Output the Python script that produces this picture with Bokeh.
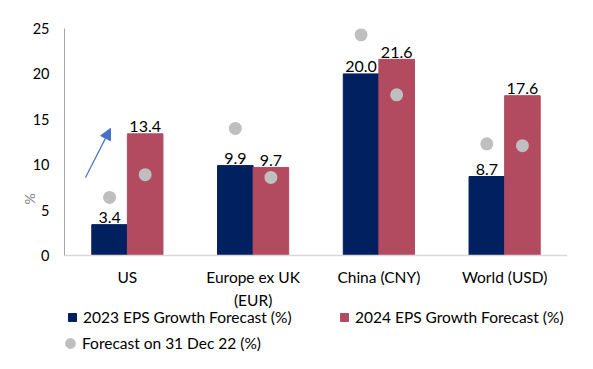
from bokeh.plotting import figure
from bokeh.models import (ColumnDataSource, Range1d, FixedTicker, Legend, LegendItem,
                          Arrow, NormalHead, LinearAxis)
from bokeh.core.properties import value
from bokeh.embed import file_html
from bokeh.resources import INLINE

# ---- data ----
categories = ["US", "Europe ex UK\n(EUR)", "China (CNY)", "World (USD)"]
eps_2023 = [3.4, 9.9, 20.0, 8.7]
eps_2024 = [13.4, 9.7, 21.6, 17.6]
dec22_2023 = [6.4, 14.0, 24.3, 12.3]
dec22_2024 = [8.9, 8.6, 17.7, 12.1]
y_ticks = [0, 5, 10, 15, 20, 25]
arrow_start = (0.167, 8.6)
arrow_end = (0.366, 14.0)

BLUE = "#002060"
RED = "#B24B60"
GREY = "#BFBFBF"
FONT = "Lato"

# frame layout: 0..25 occupies 227 px; 114 px below zero kept for labels and legend
PX_PER_UNIT = 227 / 25
Y_MIN = -114 / PX_PER_UNIT

bw = 0.283
centers = [i + 0.5 for i in range(len(categories))]
x23 = [c - bw / 2 for c in centers]
x24 = [c + bw / 2 for c in centers]

src23 = ColumnDataSource(dict(x=x23, top=eps_2023, lab=[f"{v:.1f}" for v in eps_2023], dot=dec22_2023))
src24 = ColumnDataSource(dict(x=x24, top=eps_2024, lab=[f"{v:.1f}" for v in eps_2024], dot=dec22_2024))

p = figure(width=593, height=369, output_backend="svg", toolbar_location=None,
           x_range=Range1d(0, len(categories)), y_range=Range1d(Y_MIN, 25),
           x_axis_location=None,
           min_border_left=64, min_border_right=26, min_border_top=28, min_border_bottom=0)
p.outline_line_color = None
p.grid.visible = False
p.background_fill_color = "white"

r23 = p.vbar(x="x", top="top", width=bw, color=BLUE, source=src23)
r24 = p.vbar(x="x", top="top", width=bw, color=RED, source=src24)
for s in (src23, src24):
    p.text(x="x", y="top", text="lab", source=s, text_align="center", text_baseline="alphabetic",
           y_offset=-7, text_font=value(FONT), text_font_size="16px", text_color="#000000")
rd = p.scatter(x="x", y="dot", source=src23, size=7, fill_color=GREY, line_color=GREY, line_width=6)
p.scatter(x="x", y="dot", source=src24, size=7, fill_color=GREY, line_color=GREY, line_width=6)

p.add_layout(Arrow(end=NormalHead(size=11, fill_color="#4472C4", line_color="#4472C4"),
                   x_start=arrow_start[0], y_start=arrow_start[1],
                   x_end=arrow_end[0], y_end=arrow_end[1],
                   line_color="#4472C4", line_width=1.2))

# y axis
yax = p.yaxis[0]
yax.ticker = FixedTicker(ticks=y_ticks)
yax.bounds = (0, 25)
yax.axis_line_color = "#A6A6A6"
yax.major_tick_line_color = None
yax.minor_tick_line_color = None
yax.major_tick_out = 0
yax.major_tick_in = 0
yax.major_label_standoff = 15
yax.major_label_text_font = FONT
yax.major_label_text_font_size = "14.5px"
yax.major_label_text_color = "#000000"
yax.axis_label = "%"
yax.axis_label_text_font = FONT
yax.axis_label_text_font_style = "normal"
yax.axis_label_text_font_size = "14px"
yax.axis_label_text_color = "#7F7F7F"
yax.axis_label_standoff = -8

# x axis, drawn at y = 0
xax = LinearAxis(fixed_location=0)
xax.ticker = FixedTicker(ticks=centers)
xax.major_label_overrides = {c: lab for c, lab in zip(centers, categories)}
xax.axis_line_color = "#D9D9D9"
xax.axis_line_width = 1.5
xax.major_tick_line_color = None
xax.minor_tick_line_color = None
xax.major_tick_out = 0
xax.major_tick_in = 0
xax.major_label_standoff = 12
xax.major_label_text_font = FONT
xax.major_label_text_font_size = "15.5px"
xax.major_label_text_line_height = 1.3
xax.major_label_text_color = "#000000"
p.add_layout(xax, "below")

# legends
leg1 = Legend(items=[LegendItem(label="2023 EPS Growth Forecast (%)", renderers=[r23]),
                     LegendItem(label="2024 EPS Growth Forecast (%)", renderers=[r24])],
              ncols=2, location=(3, 42), padding=0, margin=0, spacing=0,
              glyph_width=10, glyph_height=10, label_standoff=6, label_width=256, label_height=20,
              label_text_font=FONT, label_text_font_size="15.5px", label_text_color="#000000",
              border_line_color=None, background_fill_alpha=0)
leg2 = Legend(items=[LegendItem(label="Forecast on 31 Dec 22 (%)", renderers=[rd])],
              location=(0, 14), padding=0, margin=0, spacing=0,
              glyph_width=12, glyph_height=12, label_standoff=6, label_height=24,
              label_text_font=FONT, label_text_font_size="15.5px", label_text_color="#000000",
              border_line_color=None, background_fill_alpha=0)
p.add_layout(leg1)
p.add_layout(leg2)

open("out.html", "w").write(file_html(p, INLINE))
